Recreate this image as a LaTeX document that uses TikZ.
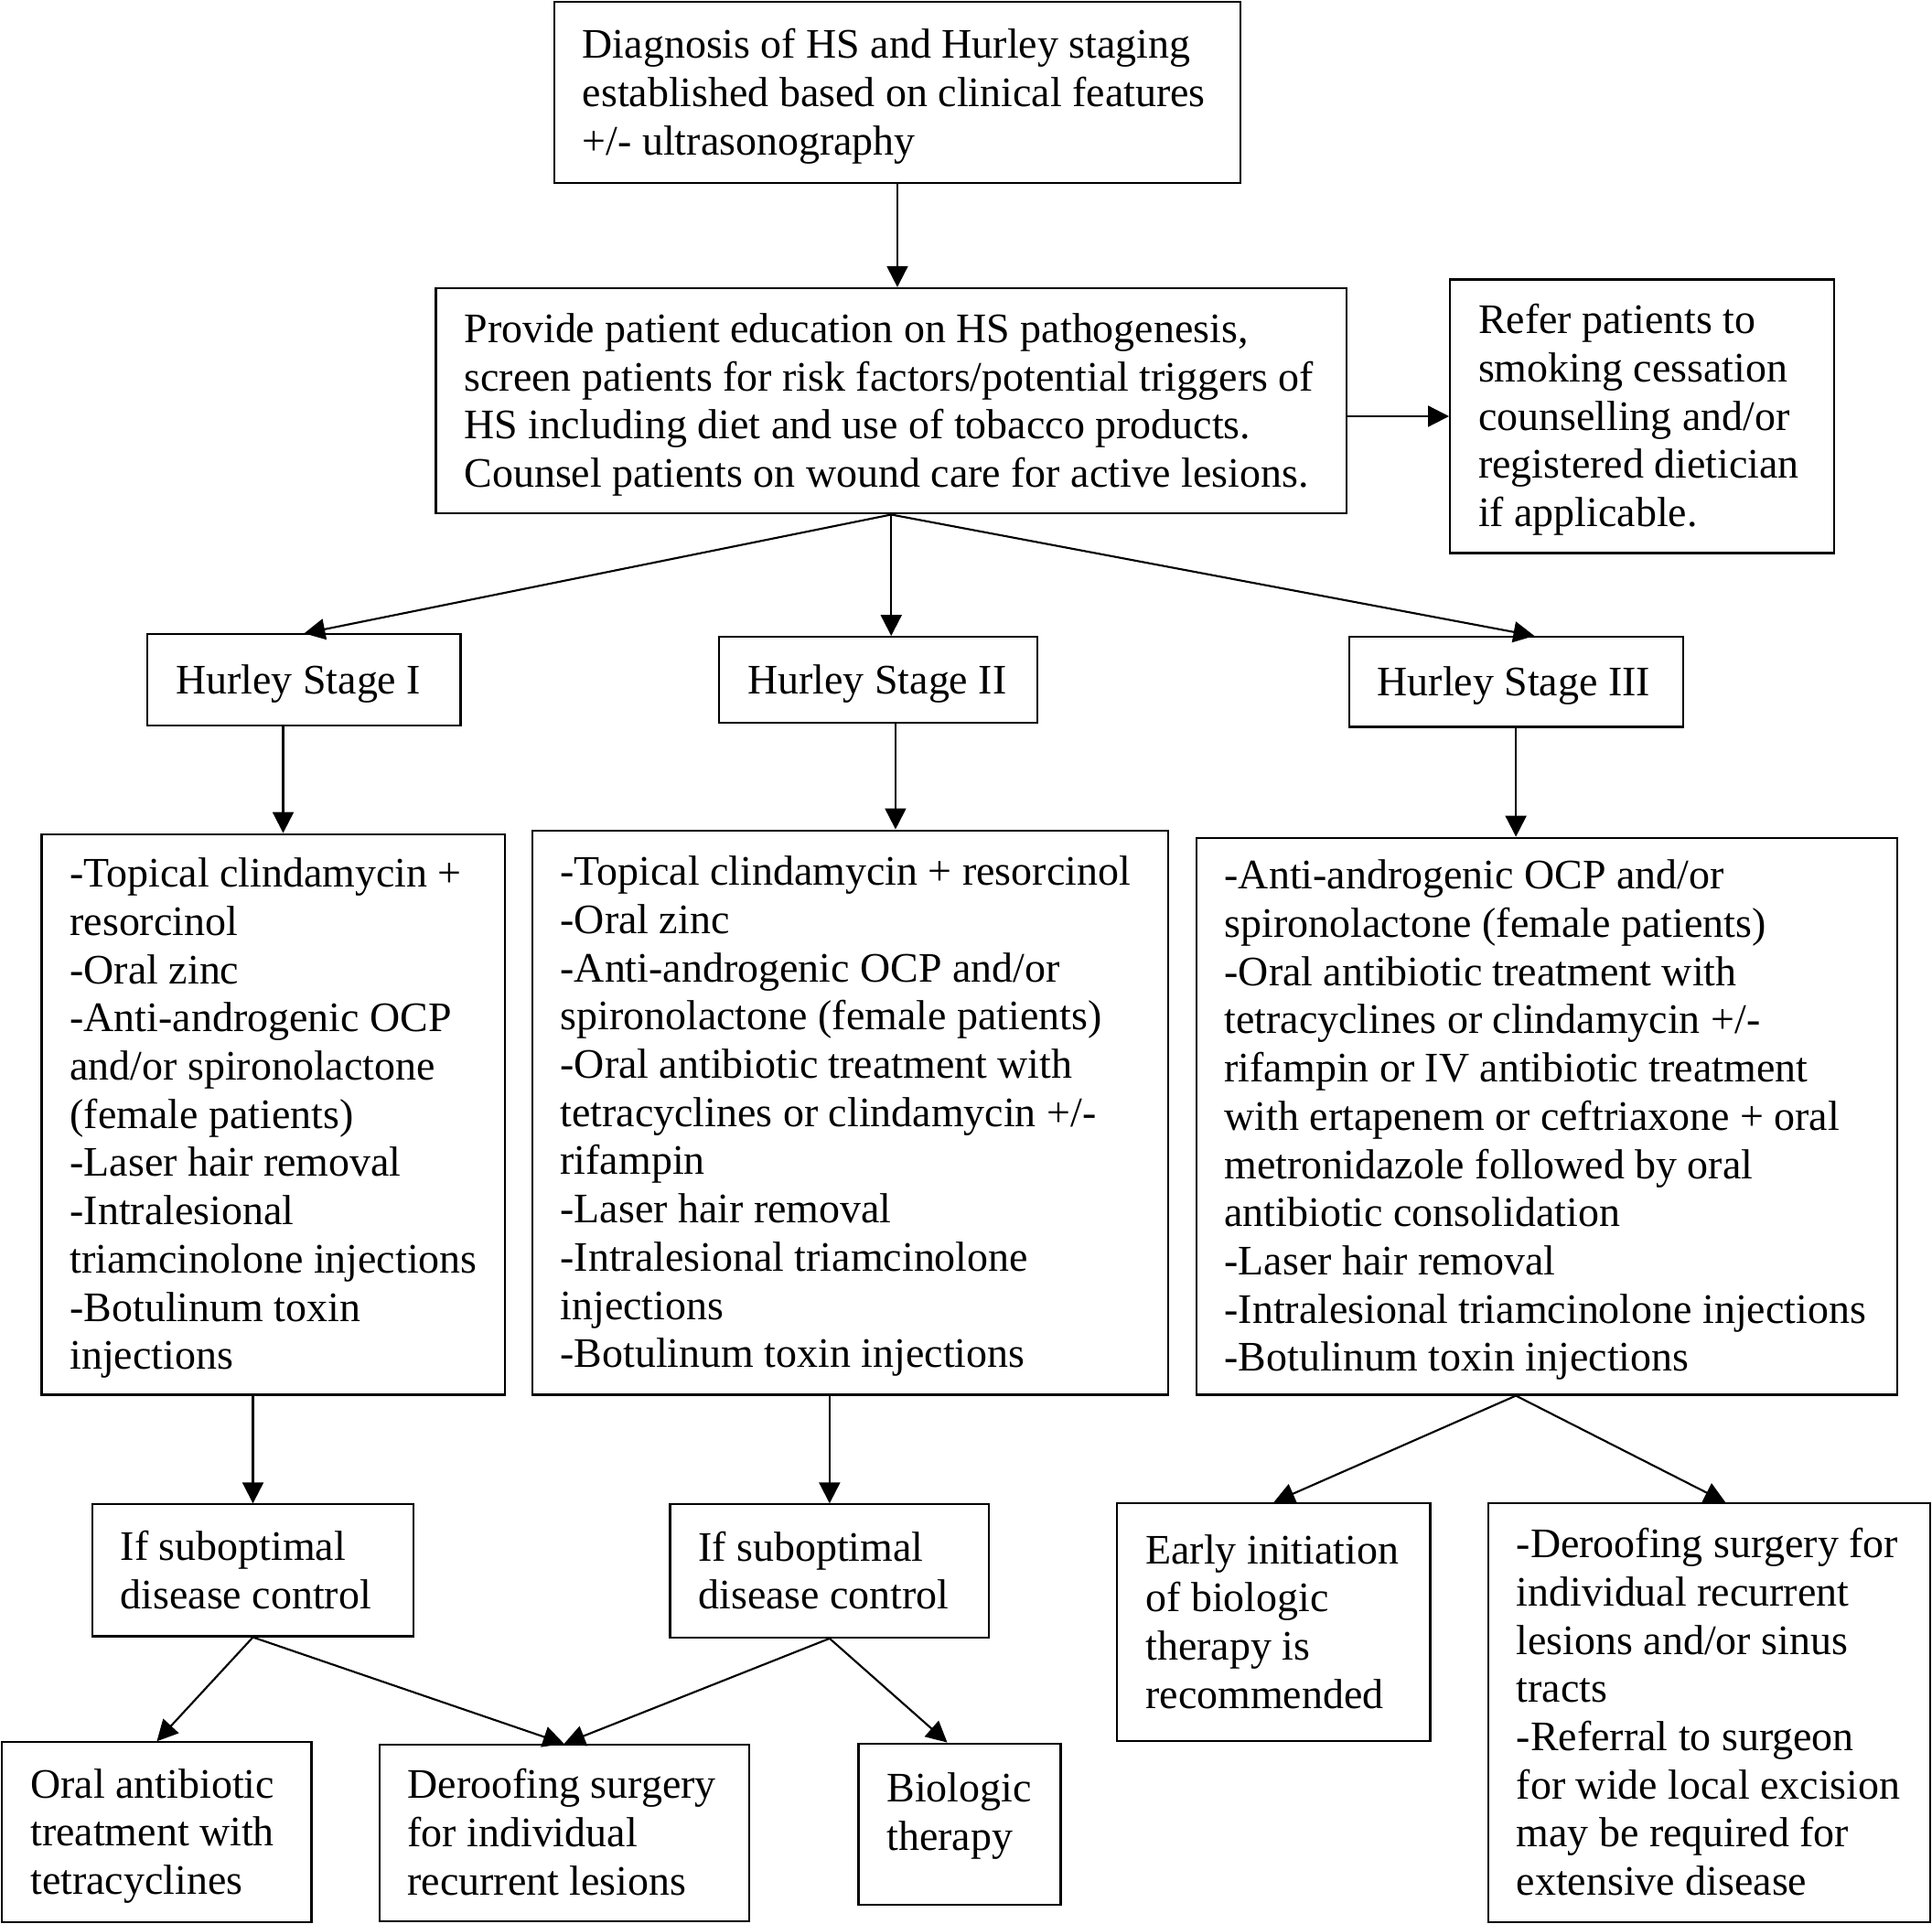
\documentclass[tikz,border=0pt]{standalone}
\usepackage{fontspec}
\setmainfont{Liberation Serif}
\usetikzlibrary{arrows.meta}
\newcommand{\blktext}[2]{\raisebox{-0.035cm}[\height][\depth]{\makebox[#1][l]{\begin{tabular}{@{}l@{}}#2\end{tabular}}}}
\tikzset{
  blk/.style={draw, line width=0.45pt, anchor=north west, inner xsep=0.23cm, inner ysep=0pt,
    font=\fontsize{9.7}{11.13}\selectfont},
  arr/.style={line width=0.45pt, -{Triangle[length=0.17cm,width=0.17cm]}}
}
\begin{document}
\begin{tikzpicture}
\useasboundingbox (0,0) rectangle (15.68,-15.61);
% top of the chart
\node[blk, minimum width=5.57cm, minimum height=1.47cm] (diag) at (4.49,-0.01) {\blktext{5.11cm}{Diagnosis of HS and Hurley staging\\established based on clinical features\\+/- ultrasonography}};
\node[blk, minimum width=7.39cm, minimum height=1.83cm] (edu) at (3.53,-2.33) {\blktext{6.93cm}{Provide patient education on HS pathogenesis,\\screen patients for risk factors/potential triggers of\\HS including diet and use of tobacco products.\\Counsel patients on wound care for active lesions.}};
\node[blk, minimum width=3.12cm, minimum height=2.22cm] (refer) at (11.76,-2.26) {\blktext{2.66cm}{Refer patients to\\smoking cessation\\counselling and/or\\registered dietician\\if applicable.}};
% stages
\node[blk, minimum width=2.54cm, minimum height=0.74cm] (s1) at (1.19,-5.14) {\blktext{2.08cm}{Hurley Stage I}};
\node[blk, minimum width=2.58cm, minimum height=0.70cm] (s2) at (5.83,-5.16) {\blktext{2.12cm}{Hurley Stage II}};
\node[blk, minimum width=2.71cm, minimum height=0.73cm] (s3) at (10.94,-5.16) {\blktext{2.25cm}{Hurley Stage III}};
% treatments
\node[blk, minimum width=3.76cm, minimum height=4.55cm] (tx1) at (0.33,-6.76) {\blktext{3.30cm}{-Topical clindamycin +\\resorcinol\\-Oral zinc\\-Anti-androgenic OCP\\and/or spironolactone\\(female patients)\\-Laser hair removal\\-Intralesional\\triamcinolone injections\\-Botulinum toxin\\injections}};
\node[blk, minimum width=5.16cm, minimum height=4.58cm] (tx2) at (4.31,-6.73) {\blktext{4.70cm}{-Topical clindamycin + resorcinol\\-Oral zinc\\-Anti-androgenic OCP and/or\\spironolactone (female patients)\\-Oral antibiotic treatment with\\tetracyclines or clindamycin +/-\\rifampin\\-Laser hair removal\\-Intralesional triamcinolone\\injections\\-Botulinum toxin injections}};
\node[blk, minimum width=5.69cm, minimum height=4.52cm] (tx3) at (9.70,-6.79) {\blktext{5.23cm}{-Anti-androgenic OCP and/or\\spironolactone (female patients)\\-Oral antibiotic treatment with\\tetracyclines or clindamycin +/-\\rifampin or IV antibiotic treatment\\with ertapenem or ceftriaxone + oral\\metronidazole followed by oral\\antibiotic consolidation\\-Laser hair removal\\-Intralesional triamcinolone injections\\-Botulinum toxin injections}};
% follow-up
\node[blk, minimum width=2.61cm, minimum height=1.07cm] (sub1) at (0.74,-12.20) {\blktext{2.15cm}{If suboptimal\\disease control}};
\node[blk, minimum width=2.59cm, minimum height=1.08cm] (sub2) at (5.43,-12.20) {\blktext{2.13cm}{If suboptimal\\disease control}};
\node[blk, minimum width=2.54cm, minimum height=1.93cm] (early) at (9.06,-12.19) {\blktext{2.08cm}{Early initiation\\of biologic\\therapy is\\recommended}};
\node[blk, minimum width=3.59cm, minimum height=3.40cm] (der2) at (12.07,-12.19) {\blktext{3.13cm}{-Deroofing surgery for\\individual recurrent\\lesions and/or sinus\\tracts\\-Referral to surgeon\\for wide local excision\\may be required for\\extensive disease}};
\node[blk, minimum width=2.51cm, minimum height=1.46cm] (oral) at (0.01,-14.13) {\blktext{2.05cm}{Oral antibiotic\\treatment with\\tetracyclines}};
\node[blk, minimum width=3.00cm, minimum height=1.43cm] (deroof) at (3.07,-14.15) {\blktext{2.54cm}{Deroofing surgery\\for individual\\recurrent lesions}};
\node[blk, minimum width=1.64cm, minimum height=1.31cm] (bio) at (6.96,-14.14) {\blktext{1.18cm}{Biologic\\therapy\\[0.2cm]}};
% arrows
\draw[arr] (diag.south) -- (diag.south |- edu.north);
\draw[arr] (edu.east |- refer.west) -- (refer.west);
\draw[arr] (edu.south) -- (s1.north);
\draw[arr] (edu.south) -- (edu.south |- s2.north);
\draw[arr] (edu.south) -- ([xshift=0.15cm]s3.north);
\draw[arr] ([xshift=-0.17cm]s1.south) -- ([xshift=-0.17cm]s1.south |- tx1.north);
\draw[arr] ([xshift=0.14cm]s2.south) -- ([xshift=0.14cm]s2.south |- tx2.north);
\draw[arr] (s3.south) -- (s3.south |- tx3.north);
\draw[arr] (sub1.north |- tx1.south) -- (sub1.north);
\draw[arr] (sub2.north |- tx2.south) -- (sub2.north);
\draw[arr] (sub1.south) -- (oral.north);
\draw[arr] (sub1.south) -- (deroof.north);
\draw[arr] (sub2.south) -- (deroof.north);
\draw[arr] (sub2.south) -- ([xshift=-0.1cm]bio.north);
\draw[arr] ([xshift=-0.25cm]tx3.south) -- (early.north);
\draw[arr] ([xshift=-0.25cm]tx3.south) -- ([xshift=0.13cm]der2.north);
\end{tikzpicture}
\end{document}
